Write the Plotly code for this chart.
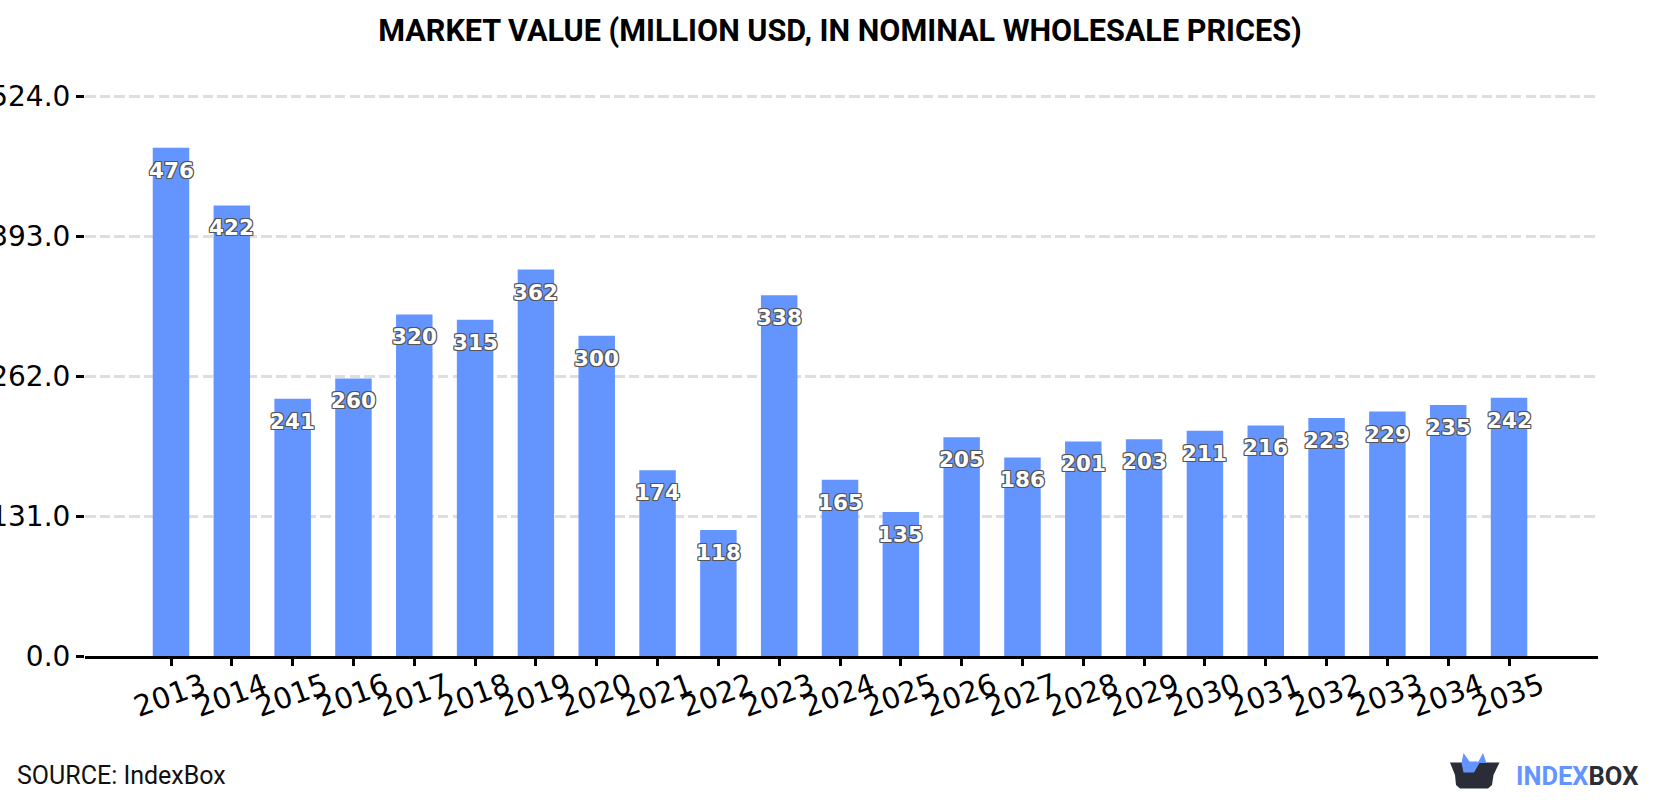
import plotly.graph_objects as go

years = [str(y) for y in range(2013, 2036)]
values = [476, 422, 241, 260, 320, 315, 362, 300, 174, 118, 338, 165, 135,
          205, 186, 201, 203, 211, 216, 223, 229, 235, 242]
y_ticks = [0, 131, 262, 393, 524]

BAR_BLUE = "#6495ff"
LOGO_DARK = "#2a2c38"
W, H = 1680, 800
LEFT, RIGHT, TOP, BOTTOM = 85, 1598, 95.4, 656
OUTLINE = ",".join(f"{dx}px {dy}px 0 #555" for dx, dy in
                   [(-1, -1), (1, -1), (-1, 1), (1, 1), (0, -1), (0, 1), (-1, 0), (1, 0)])


def paper_x(x):
    return (x - LEFT) / (RIGHT - LEFT)


def paper_y(y):
    return (BOTTOM - y) / (BOTTOM - TOP)


def px_path(points):
    """Closed SVG path in paper fractions from pixel positions."""
    return "M" + "L".join(f"{paper_x(x):.5f},{paper_y(y):.5f}" for x, y in points) + "Z"


logo_box = [(1450, 762.5), (1499.5, 762.5), (1493.5, 775), (1492, 785), (1488, 788.5),
            (1460, 788.5), (1456, 785), (1455, 775)]
logo_crown = [(1463.5, 753), (1469.5, 761.5), (1478.5, 761.5), (1483, 753), (1486.5, 763),
              (1479.5, 763), (1474, 772.5), (1463.5, 772.5), (1461.5, 763)]

fig = go.Figure(go.Bar(x=years, y=values, width=0.6, marker_color=BAR_BLUE, marker_line_width=0))

# Value labels sit just under each bar top; numeric-looking categories are addressed by index
for i, value in enumerate(values):
    fig.add_annotation(x=i, y=value, text=str(value), showarrow=False, yshift=-22.5,
                       font=dict(family="DejaVu Sans", size=21.5, color="white",
                                 weight="bold", shadow=OUTLINE))

fig.add_annotation(xref="paper", yref="paper", x=paper_x(15), y=paper_y(775.5),
                   xanchor="left", yanchor="middle", showarrow=False, text="SOURCE: IndexBox",
                   font=dict(family="Roboto", size=25, color="#111"))
fig.add_annotation(xref="paper", yref="paper", x=paper_x(1514), y=paper_y(776),
                   xanchor="left", yanchor="middle", showarrow=False,
                   text=f'<span style="color:{BAR_BLUE}">INDEX</span>'
                        f'<span style="color:{LOGO_DARK}">BOX</span>',
                   font=dict(family="Roboto", size=25.5, weight="bold"))

fig.update_layout(
    width=W, height=H,
    margin=dict(l=LEFT, r=W - RIGHT, t=TOP, b=H - BOTTOM, pad=0),
    paper_bgcolor="white", plot_bgcolor="white",
    showlegend=False,
    title=dict(text="MARKET VALUE (MILLION USD, IN NOMINAL WHOLESALE PRICES)",
               x=(W / 2 - LEFT) / (RIGHT - LEFT), xref="paper", xanchor="center",
               y=1 - 30 / H, yanchor="middle",
               font=dict(family="Roboto", size=30.6, weight="bold", color="#000")),
    xaxis=dict(type="category", range=[-1.414, 23.463], automargin=False, showgrid=False,
               showline=True, linecolor="black", linewidth=3, ticks="outside", ticklen=7,
               tickwidth=2.5, tickcolor="black", tickangle=-20, ticklabelshift=32,
               ticklabelstandoff=-8,
               tickfont=dict(family="DejaVu Sans", size=29, color="#000")),
    yaxis=dict(range=[0, 525.5], automargin=False, tickmode="array", tickvals=y_ticks,
               ticktext=[f"{v:.1f}" for v in y_ticks], showline=False, zeroline=False,
               showgrid=True, gridcolor="#dedede", gridwidth=2.5, griddash="10.5px,4.2px",
               ticks="outside", ticklen=8, tickwidth=2.5, tickcolor="black",
               tickfont=dict(family="DejaVu Sans", size=28, color="#000")),
    shapes=[
        dict(type="path", xref="paper", yref="paper", path=px_path(logo_box),
             fillcolor=LOGO_DARK, line_width=0, layer="above"),
        dict(type="path", xref="paper", yref="paper", path=px_path(logo_crown),
             fillcolor=BAR_BLUE, line_width=0, layer="above"),
    ],
)

fig.write_html("out.html")
